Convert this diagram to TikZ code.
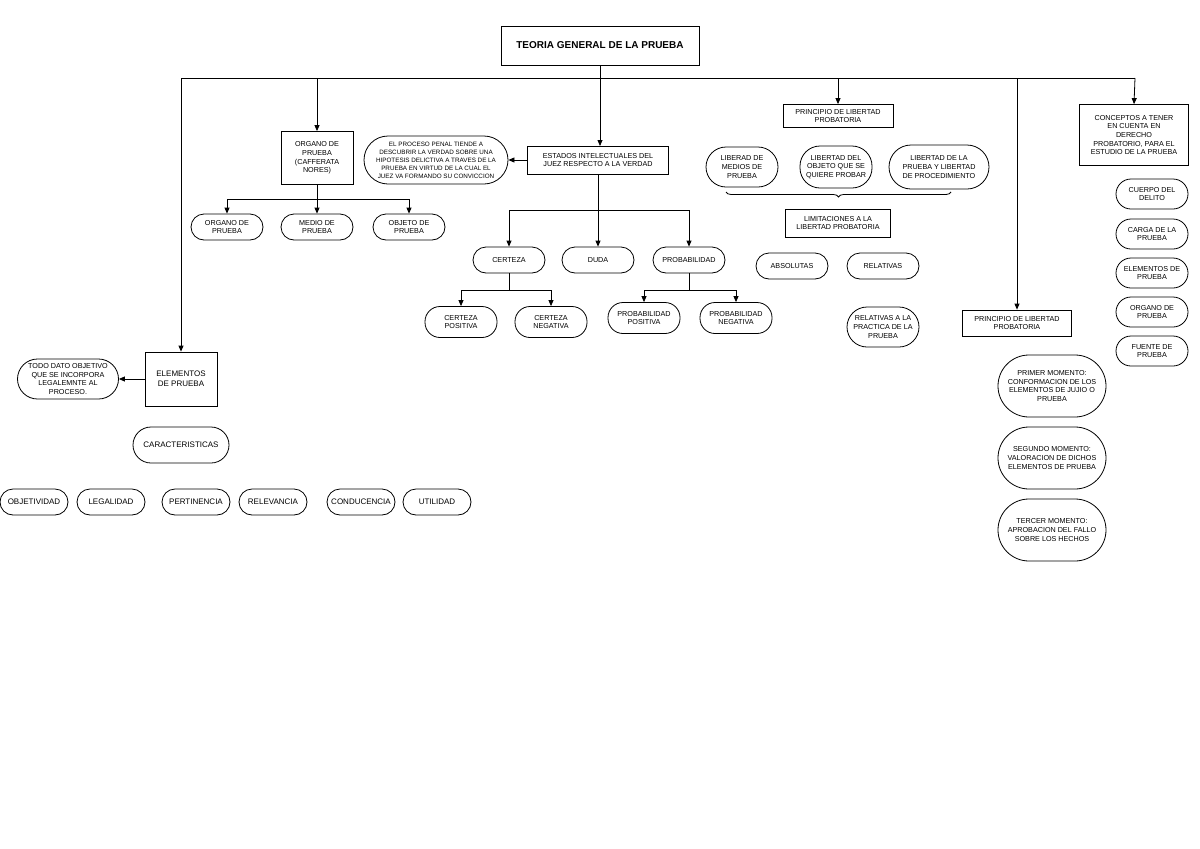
\documentclass[tikz,border=0pt]{standalone}
\usepackage{fontspec}
\setmainfont{Liberation Sans}
\usetikzlibrary{arrows.meta,decorations.pathreplacing}
\begin{document}
\begin{tikzpicture}[x=1pt,y=-1pt,
  every node/.style={font=\fontsize{7.2}{8.6}\selectfont,align=center,inner sep=0pt},
  box/.style={draw,line width=0.8pt,minimum width=#1},
  pill/.style={draw,line width=0.8pt,rounded corners=#1},
  arr/.style={line width=0.8pt,-{Triangle[length=6pt,width=5pt]}},
  ln/.style={line width=0.8pt}]
\useasboundingbox (0,0) rectangle (1200,849);
\fill[white] (0,0) rectangle (1200,849);
% helper: node via fixed size
\tikzset{sz/.style 2 args={minimum width=#1,minimum height=#2}}
\node[box=198,sz={198}{39},font=\fontsize{10}{12}\selectfont\bfseries] (title) at (600,45.5) {TEORIA GENERAL DE LA PRUEBA};
\coordinate (hl) at (181,78);
\coordinate (hr) at (1135,78);
\draw[ln] (hl) -- (hr);
\draw[ln] (title.south) -- (600,78);
% organo
\node[box=72,sz={72}{53}] (org) at (317,158) {ORGANO DE\\PRUEBA\\(CAFFERATA\\NORES)};
\draw[arr] (317,78) -- (org.north);
\node[pill=24pt,sz={144}{48},font=\fontsize{6.3}{8}\selectfont] (nota) at (436,160) {EL PROCESO PENAL TIENDE A\\DESCUBRIR LA VERDAD SOBRE UNA\\HIPOTESIS DELICTIVA A TRAVES DE LA\\PRUEBA EN VIRTUD DE LA CUAL EL\\JUEZ VA FORMANDO SU CONVICCION};
\node[box=141,sz={141}{28}] (est) at (598,160) {ESTADOS INTELECTUALES DEL\\JUEZ RESPECTO A LA VERDAD};
\draw[arr] (600,78) -- (600,146);
\draw[arr] (est.west) -- (nota.east);
\node[pill=13pt,sz={72}{26}] (o1) at (227,227) {ORGANO DE\\PRUEBA};
\node[pill=13pt,sz={72}{26}] (o2) at (317,227) {MEDIO DE\\PRUEBA};
\node[pill=13pt,sz={72}{26}] (o3) at (409,227) {OBJETO DE\\PRUEBA};
\draw[ln] (org.south) -- (317,199);
\draw[ln] (227,199) -- (409,199);
\draw[arr] (227,199) -- (o1.north);
\draw[arr] (317,199) -- (o2.north);
\draw[arr] (409,199) -- (o3.north);
% estados children
\node[pill=13pt,sz={72}{26}] (cer) at (509,260) {CERTEZA};
\node[pill=13pt,sz={72}{26}] (dud) at (598,260) {DUDA};
\node[pill=13pt,sz={72}{26}] (pro) at (689,260) {PROBABILIDAD};
\draw[ln] (est.south) -- (598,210);
\draw[ln] (509,210) -- (689,210);
\draw[arr] (509,210) -- (cer.north);
\draw[arr] (598,210) -- (dud.north);
\draw[arr] (689,210) -- (pro.north);
\node[pill=15pt,sz={72}{31}] (cp) at (461,322) {CERTEZA\\POSITIVA};
\node[pill=15pt,sz={72}{31}] (cn) at (551,322) {CERTEZA\\NEGATIVA};
\draw[ln] (cer.south) -- (509,290);
\draw[ln] (461,290) -- (551,290);
\draw[arr] (461,290) -- (cp.north);
\draw[arr] (551,290) -- (cn.north);
\node[pill=15pt,sz={72}{31}] (pp) at (644,318) {PROBABILIDAD\\POSITIVA};
\node[pill=15pt,sz={72}{31}] (pn) at (736,318) {PROBABILIDAD\\NEGATIVA};
\draw[ln] (pro.south) -- (689,290);
\draw[ln] (644,290) -- (736,290);
\draw[arr] (644,290) -- (pp.north);
\draw[arr] (736,290) -- (pn.north);
% principio
\node[box=110,sz={110}{23}] (pl) at (838,116) {PRINCIPIO DE LIBERTAD\\PROBATORIA};
\draw[arr] (838,78) -- (pl.north);
\node[pill=20pt,sz={72}{40}] (l1) at (742,167) {LIBERAD DE\\MEDIOS DE\\PRUEBA};
\node[pill=20pt,sz={72}{42}] (l2) at (836,167) {LIBERTAD DEL\\OBJETO QUE SE\\QUIERE PROBAR};
\node[pill=22pt,sz={100}{44}] (l3) at (939,167) {LIBERTAD DE LA\\PRUEBA  Y LIBERTAD\\DE PROCEDIMIENTO};
\draw[ln,decorate,decoration={brace,mirror,amplitude=5pt}] (726,192) -- (951,192);
\node[box=105,sz={105}{28}] (lim) at (838,223) {LIMITACIONES A LA\\LIBERTAD PROBATORIA};
\node[pill=13pt,sz={72}{26}] (abs) at (792,266) {ABSOLUTAS};
\node[pill=13pt,sz={72}{26}] (rel) at (883,266) {RELATIVAS};
\node[pill=20pt,sz={72}{40}] (rp) at (883,327) {RELATIVAS A LA\\PRACTICA DE LA\\PRUEBA};
% principio 2
\node[box=109,sz={109}{26}] (pl2) at (1017,323) {PRINCIPIO DE LIBERTAD\\PROBATORIA};
\draw[arr] (1017,78) -- (pl2.north);
\node[pill=31pt,sz={108}{62}] (m1) at (1052,386) {PRIMER MOMENTO:\\CONFORMACION DE LOS\\ELEMENTOS DE JUJIO O\\PRUEBA};
\node[pill=31pt,sz={108}{62}] (m2) at (1052,458) {SEGUNDO MOMENTO:\\VALORACION DE DICHOS\\ELEMENTOS DE PRUEBA};
\node[pill=31pt,sz={108}{62}] (m3) at (1052,530) {TERCER MOMENTO:\\APROBACION DEL FALLO\\SOBRE LOS HECHOS};
% conceptos
\node[box=109,sz={109}{61}] (con) at (1134,135) {CONCEPTOS A TENER\\EN CUENTA EN\\DERECHO\\PROBATORIO, PARA EL\\ESTUDIO DE LA PRUEBA};
\draw[arr] (1135,78) -- (con.north);
\node[pill=15pt,sz={72}{30}] (c1) at (1152,194) {CUERPO DEL\\DELITO};
\node[pill=15pt,sz={72}{30}] (c2) at (1152,234) {CARGA DE LA\\PRUEBA};
\node[pill=15pt,sz={72}{30}] (c3) at (1152,273) {ELEMENTOS DE\\PRUEBA};
\node[pill=15pt,sz={72}{30}] (c4) at (1152,312) {ORGANO DE\\PRUEBA};
\node[pill=15pt,sz={72}{30}] (c5) at (1152,351) {FUENTE DE\\PRUEBA};
% elementos
\node[box=72,sz={72}{54},font=\fontsize{8}{10}\selectfont] (ele) at (181,379) {ELEMENTOS\\DE PRUEBA};
\draw[arr] (hl) -- (ele.north);
\node[pill=20pt,sz={101}{40}] (todo) at (68,379) {TODO DATO OBJETIVO\\QUE SE INCORPORA\\LEGALEMNTE AL\\PROCESO.};
\draw[arr] (ele.west) -- (todo.east);
\node[pill=18pt,sz={96}{36},font=\fontsize{8}{10}\selectfont] (car) at (181,445) {CARACTERISTICAS};
\foreach \n/\x/\t in {b1/34/OBJETIVIDAD,b2/111/LEGALIDAD,b3/196/PERTINENCIA,b4/273/RELEVANCIA,b5/361/CONDUCENCIA,b6/437/UTILIDAD}
  \node[pill=13pt,sz={68}{26},font=\fontsize{8}{10}\selectfont] (\n) at (\x,502) {\t};
\end{tikzpicture}
\end{document}
